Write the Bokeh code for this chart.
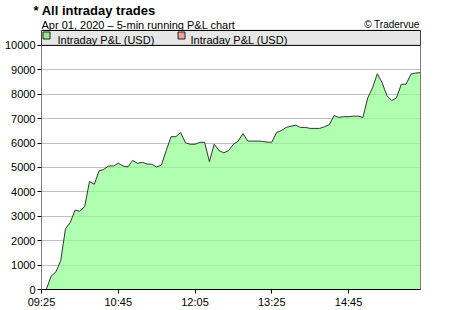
from bokeh.plotting import figure
from bokeh.models import (Range1d, FixedTicker, Label, BoxAnnotation, ColumnDataSource, Title)
from bokeh.embed import file_html
from bokeh.resources import INLINE

# time in minutes since midnight, 5-minute steps 09:30 .. 16:00
times = list(range(570, 961, 5))
pnl = [0, 545, 720, 1180, 2490, 2750, 3250, 3200, 3400, 4420,
       4310, 4860, 4920, 5060, 5060, 5170, 5060, 5020, 5290, 5170,
       5210, 5140, 5130, 5020, 5100, 5690, 6260, 6260, 6430, 6010,
       5950, 5950, 6030, 6030, 5240, 5950, 5690, 5600, 5690, 5950,
       6080, 6390, 6080, 6080, 6080, 6070, 6040, 6030, 6430, 6510,
       6640, 6690, 6730, 6640, 6640, 6600, 6600, 6600, 6670, 6750,
       7130, 7050, 7080, 7080, 7100, 7100, 7050, 7850, 8260, 8840,
       8470, 7940, 7740, 7850, 8410, 8410, 8820, 8870, 8880]
zero = [0] * len(times)

x_ticks = [565, 645, 725, 805, 885]
x_tick_labels = ["09:25", "10:45", "12:05", "13:25", "14:45"]
y_ticks = list(range(0, 10001, 1000))

title_text = "* All intraday trades"
subtitle_text = "Apr 01, 2020 \u2013 5-min running P&L chart"
credit_text = "\u00a9 Tradervue"
legend_labels = ["Intraday P&L (USD)", "Intraday P&L (USD)"]

FONT = "Liberation Sans"

# plot box: 0 .. 10612 ; frame extends above it to hold the subtitle row
Y_BOX_TOP = 10612
FRAME_TOP_PX = 17
Y_FRAME_TOP = (290 - FRAME_TOP_PX) / 24.5 * 1000

src = ColumnDataSource(dict(t=times, v=pnl, z=zero))

p = figure(width=450, height=310, output_backend="svg", toolbar_location=None,
           x_range=Range1d(565, 960), y_range=Range1d(0, Y_FRAME_TOP),
           min_border_left=41, min_border_right=30, min_border_top=FRAME_TOP_PX,
           min_border_bottom=20)
p.background_fill_color = "white"
p.border_fill_color = "white"
p.outline_line_color = None

p.add_layout(Title(text=title_text, align="left", offset=-8, standoff=0,
                   text_font=FONT, text_font_size="13px", text_font_style="bold",
                   text_color="black"), "above")

p.xgrid.visible = False
p.ygrid.grid_line_color = "#c0c0c0"
p.ygrid.ticker = FixedTicker(ticks=y_ticks)

p.varea(x="t", y1="z", y2="v", source=src, fill_color="#8eff8e", fill_alpha=0.7)
p.line(x="t", y="v", source=src, line_color="#333333", line_width=1)

for ax in (p.xaxis[0], p.yaxis[0]):
    ax.axis_line_color = "black"
    ax.major_tick_line_color = "black"
    ax.major_tick_out = 4
    ax.major_tick_in = 0
    ax.minor_tick_line_color = None
    ax.major_label_text_font = FONT
    ax.major_label_text_font_size = "11px"
    ax.major_label_text_color = "black"
    ax.major_label_standoff = 2
p.yaxis[0].axis_line_color = None

p.xaxis[0].ticker = FixedTicker(ticks=x_ticks)
p.xaxis[0].major_label_overrides = {t: l for t, l in zip(x_ticks, x_tick_labels)}
p.yaxis[0].ticker = FixedTicker(ticks=y_ticks)

# legend band
p.add_layout(BoxAnnotation(bottom=10000, top=Y_BOX_TOP, fill_color="#e6e6e6", fill_alpha=1,
                           line_color="black", line_width=1, line_alpha=1))
# plot box border
p.add_layout(BoxAnnotation(bottom=0, top=Y_BOX_TOP, fill_color=None,
                           line_color="black", line_width=1, line_alpha=1))
for left, col in ((1.5, "#99e699"), (136.5, "#f0a0a0")):
    p.add_layout(BoxAnnotation(left=left, right=left + 7, bottom=250.5, top=257.5,
                               left_units="screen", right_units="screen",
                               bottom_units="screen", top_units="screen",
                               fill_color=col, fill_alpha=1, line_color="#222222",
                               line_width=1, line_alpha=1))
for xx, txt in ((16, legend_labels[0]), (149, legend_labels[1])):
    p.add_layout(Label(x=xx, y=250, x_units="screen", y_units="screen", text=txt,
                       text_font=FONT, text_font_size="11px", text_color="black",
                       text_baseline="alphabetic"))

p.add_layout(Label(x=0, y=265, x_units="screen", y_units="screen", text=subtitle_text,
                   text_font=FONT, text_font_size="11px", text_color="black",
                   text_baseline="alphabetic"))
p.add_layout(Label(x=378, y=265, x_units="screen", y_units="screen", text=credit_text,
                   text_font=FONT, text_font_size="10px", text_color="black",
                   text_align="right", text_baseline="alphabetic"))

open("out.html", "w").write(file_html(p, INLINE))
